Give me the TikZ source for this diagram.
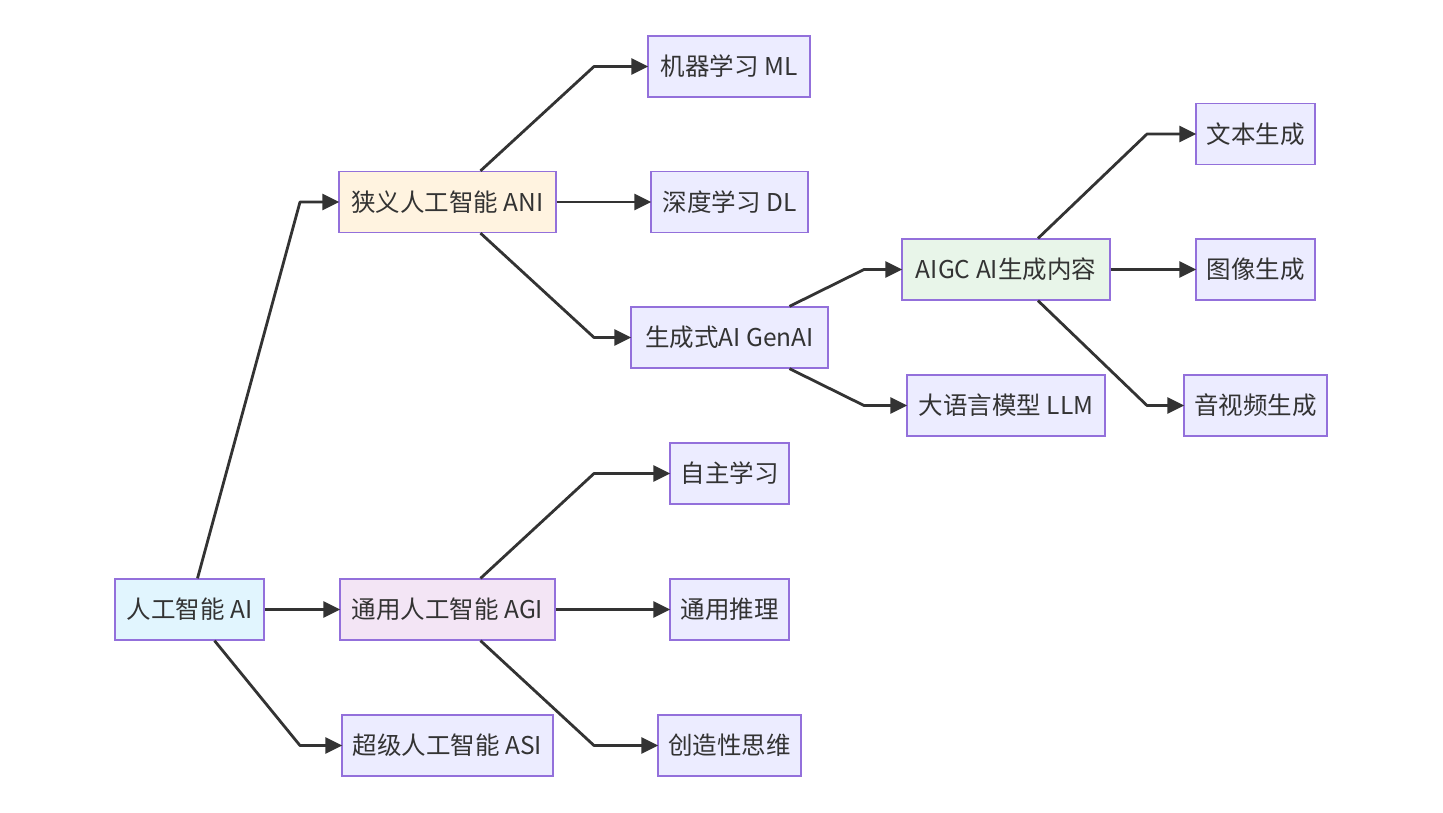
\documentclass[tikz,border=0pt]{standalone}
\usepackage{fontspec}
\setmainfont{Noto Sans CJK SC}
\usetikzlibrary{arrows.meta}
\definecolor{edge}{HTML}{333333}
\definecolor{boxline}{HTML}{9370DB}
\definecolor{plain}{HTML}{ECECFF}
\definecolor{rootfill}{HTML}{E1F5FE}
\definecolor{anifill}{HTML}{FFF3E0}
\definecolor{agifill}{HTML}{F3E5F5}
\definecolor{aigcfill}{HTML}{E8F5E9}
\tikzset{
  x=1pt, y=-1pt,
  box/.style={draw=boxline, line width=1.3pt, fill=plain, inner sep=0pt,
    text=edge, font=\fontsize{24.5}{28}\selectfont, minimum height=61pt},
  link/.style={draw=edge, line width=2.8pt, line join=round,
    -{Triangle[length=17pt,width=16pt]}, shorten >=-1pt}
}
\begin{document}
\begin{tikzpicture}
\useasboundingbox (0,0) rectangle (1443,812);
% level 0
\node[box, fill=rootfill, minimum width=149pt] (ai) at (189.5,609.5) {人工智能 AI};
% level 1
\node[box, fill=anifill, minimum width=217pt] (ani) at (447.5,202) {狭义人工智能 ANI};
\node[box, fill=agifill, minimum width=215pt] (agi) at (447.5,609.5) {通用人工智能 AGI};
\node[box, minimum width=211pt] (asi) at (447.5,745.5) {超级人工智能 ASI};
% level 2
\node[box, minimum width=162pt] (ml) at (729,66.5) {机器学习 ML};
\node[box, minimum width=157pt] (dl) at (729.5,202) {深度学习 DL};
\node[box, minimum width=197pt] (gen) at (729.5,337.5) {生成式AI GenAI};
\node[box, minimum width=119pt] (self) at (729.5,473.5) {自主学习};
\node[box, minimum width=119pt] (reason) at (729.5,609.5) {通用推理};
\node[box, minimum width=143pt] (create) at (729.5,745.5) {创造性思维};
% level 3
\node[box, fill=aigcfill, minimum width=208pt] (aigc) at (1006,269.5) {AIGC AI生成内容};
\node[box, minimum width=198pt] (llm) at (1006,405.5) {大语言模型 LLM};
% level 4
\node[box, minimum width=119pt] (text) at (1255.5,134) {文本生成};
\node[box, minimum width=119pt] (image) at (1255.5,269.5) {图像生成};
\node[box, minimum width=143pt] (av) at (1255.5,405.5) {音视频生成};
% connectors
\draw[link] ([xshift=8pt]ai.north) -- (300,202) -- (ani.west);
\draw[link] (ai.east) -- (agi.west);
\draw[link] ([xshift=25pt]ai.south) -- (300,745.5) -- (asi.west);
\draw[link] ([xshift=33pt]ani.north) -- (594,66.5) -- (ml.west);
\draw[link] (ani.east) -- (dl.west);
\draw[link] ([xshift=33pt]ani.south) -- (594,337.5) -- (gen.west);
\draw[link] ([xshift=60pt]gen.north) -- (864,269.5) -- (aigc.west);
\draw[link] ([xshift=60pt]gen.south) -- (864,405.5) -- (llm.west);
\draw[link] ([xshift=32pt]aigc.north) -- (1147,134) -- (text.west);
\draw[link] (aigc.east) -- (image.west);
\draw[link] ([xshift=32pt]aigc.south) -- (1147,405.5) -- (av.west);
\draw[link] ([xshift=33pt]agi.north) -- (594,473.5) -- (self.west);
\draw[link] (agi.east) -- (reason.west);
\draw[link] ([xshift=33pt]agi.south) -- (594,745.5) -- (create.west);
\end{tikzpicture}
\end{document}
